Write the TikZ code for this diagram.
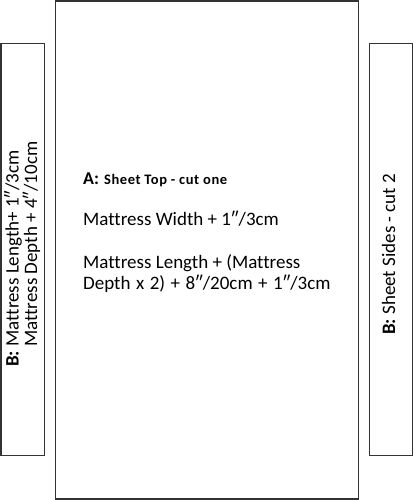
\documentclass[tikz,border=0pt]{standalone}
\usepackage{fontspec}
\setmainfont{Carlito}[Ligatures=NoCommon]
\newfontfamily\headfont{Carlito}[LetterSpace=4,Ligatures=NoCommon]
\begin{document}
\begin{tikzpicture}[x=1pt,y=-1pt,
  panel/.style={draw=black!80,line width=1.8pt},
  sidetext/.style={anchor=base west,inner sep=0pt,rotate=90,font=\fontsize{19}{19}\selectfont},
  maintext/.style={anchor=base west,inner sep=0pt,font=\fontsize{19}{19}\selectfont}]
\useasboundingbox (0,0) rectangle (414,500);
\draw[panel] (55.5,1) rectangle (358.5,499);
\draw[panel] (1,43.5) rectangle (44.5,455.5);
\draw[panel] (369.5,43.5) rectangle (412.5,455.5);
% left panel
\node[sidetext] (l1) at (18.5,367) {\textbf{B:} Mattress Length+ 1″/3cm};
\node[sidetext] (l2) at (37,347) {Mattress Depth + 4″/10cm};
% right panel
\node[sidetext] (r1) at (395,335) {\textbf{B:} Sheet Sides - cut 2};
% main panel
\node[maintext] (h) at (83,184) {\textbf{\fontsize{18}{18}\selectfont A:}\hspace{5pt}{\headfont\bfseries\fontsize{14.5}{14.5}\selectfont Sheet Top - cut one}};
\node[maintext] (w) at (83,225) {Mattress Width + 1″/3cm};
\node[maintext] (m1) at (83,268) {Mattress Length + (Mattress};
\node[maintext] (m2) at (83,289) {\spaceskip=5.5pt plus 1pt Depth x 2) + 8″/20cm + 1″/3cm};
\end{tikzpicture}
\end{document}
